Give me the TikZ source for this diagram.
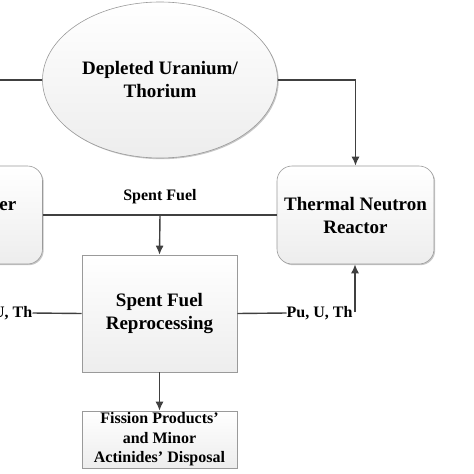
\documentclass[tikz,border=0pt]{standalone}
\usepackage{fontspec}
\setmainfont{Liberation Serif}
\usetikzlibrary{arrows.meta,shadows,calc,shapes.geometric}
\definecolor{lineclr}{HTML}{404040}
\definecolor{bordclr}{HTML}{9A9A9A}
\tikzset{
  big/.style={font=\bfseries\fontsize{19}{23}\selectfont, align=center},
  small/.style={font=\bfseries\fontsize{16}{19.5}\selectfont, align=center},
  boxbase/.style={draw=bordclr, line width=0.6pt, top color=white, bottom color=gray!14,
     drop shadow={shadow xshift=1.2pt, shadow yshift=-1.2pt, fill=gray!55, opacity=0.8},
     inner sep=0pt},
  roundbox/.style={boxbase, rounded corners=15pt, minimum width=157pt, minimum height=98pt},
  sqbox/.style={boxbase, minimum width=155pt},
  conn/.style={draw=lineclr, line width=1.4pt},
  arr/.style={conn, -{Latex[length=9pt,width=8pt]}},
}
\begin{document}
\begin{tikzpicture}[x=1pt,y=-1pt]
\useasboundingbox (0,0) rectangle (474,474);
\clip (0,0) rectangle (474,474);
% nodes
\node[boxbase, ellipse, minimum width=235pt, minimum height=156pt, big] (dep) at (160,80) {Depleted Uranium/\\Thorium};
\node[roundbox, big] (tnr) at (355.5,215) {Thermal Neutron\\Reactor};
\node[roundbox, big] (fbr) at (-36,215) {Fast Breeder\\Reactor};
\node[sqbox, minimum height=117pt, big] (rep) at (159.5,313.5) {Spent Fuel\\Reprocessing};
\node[sqbox, minimum height=57pt, small] (disp) at (159.5,439.5) {Fission Products'\\and Minor\\Actinides' Disposal};
% labels
\node[small, inner sep=0pt] (sf) at (160,197) {Spent Fuel};
\node[small, inner sep=0pt, anchor=west] (puR) at (286.5,313) {Pu, U, Th};
\node[small, inner sep=0pt, anchor=east] (puL) at (32.5,313) {Pu, U, Th};
% coordinates
\coordinate (lend) at (-10,80);
\coordinate (sfj) at (160,215);
\coordinate (puRup) at (355,312);
% connectors
\draw[conn] (lend) -- (dep.west);
\draw[arr] (dep.east) -| (tnr.north);
\draw[conn] (fbr.east) -- (tnr.west);
\draw[arr] (sfj) -- (rep.north);
\draw[conn] (rep.east) -- (puR.west);
\draw[arr] (puRup) -- (tnr.south -| puRup);
\draw[conn] (rep.west) -- (puL.east);
\draw[arr] (rep.south) -- (disp.north);
\end{tikzpicture}
\end{document}
